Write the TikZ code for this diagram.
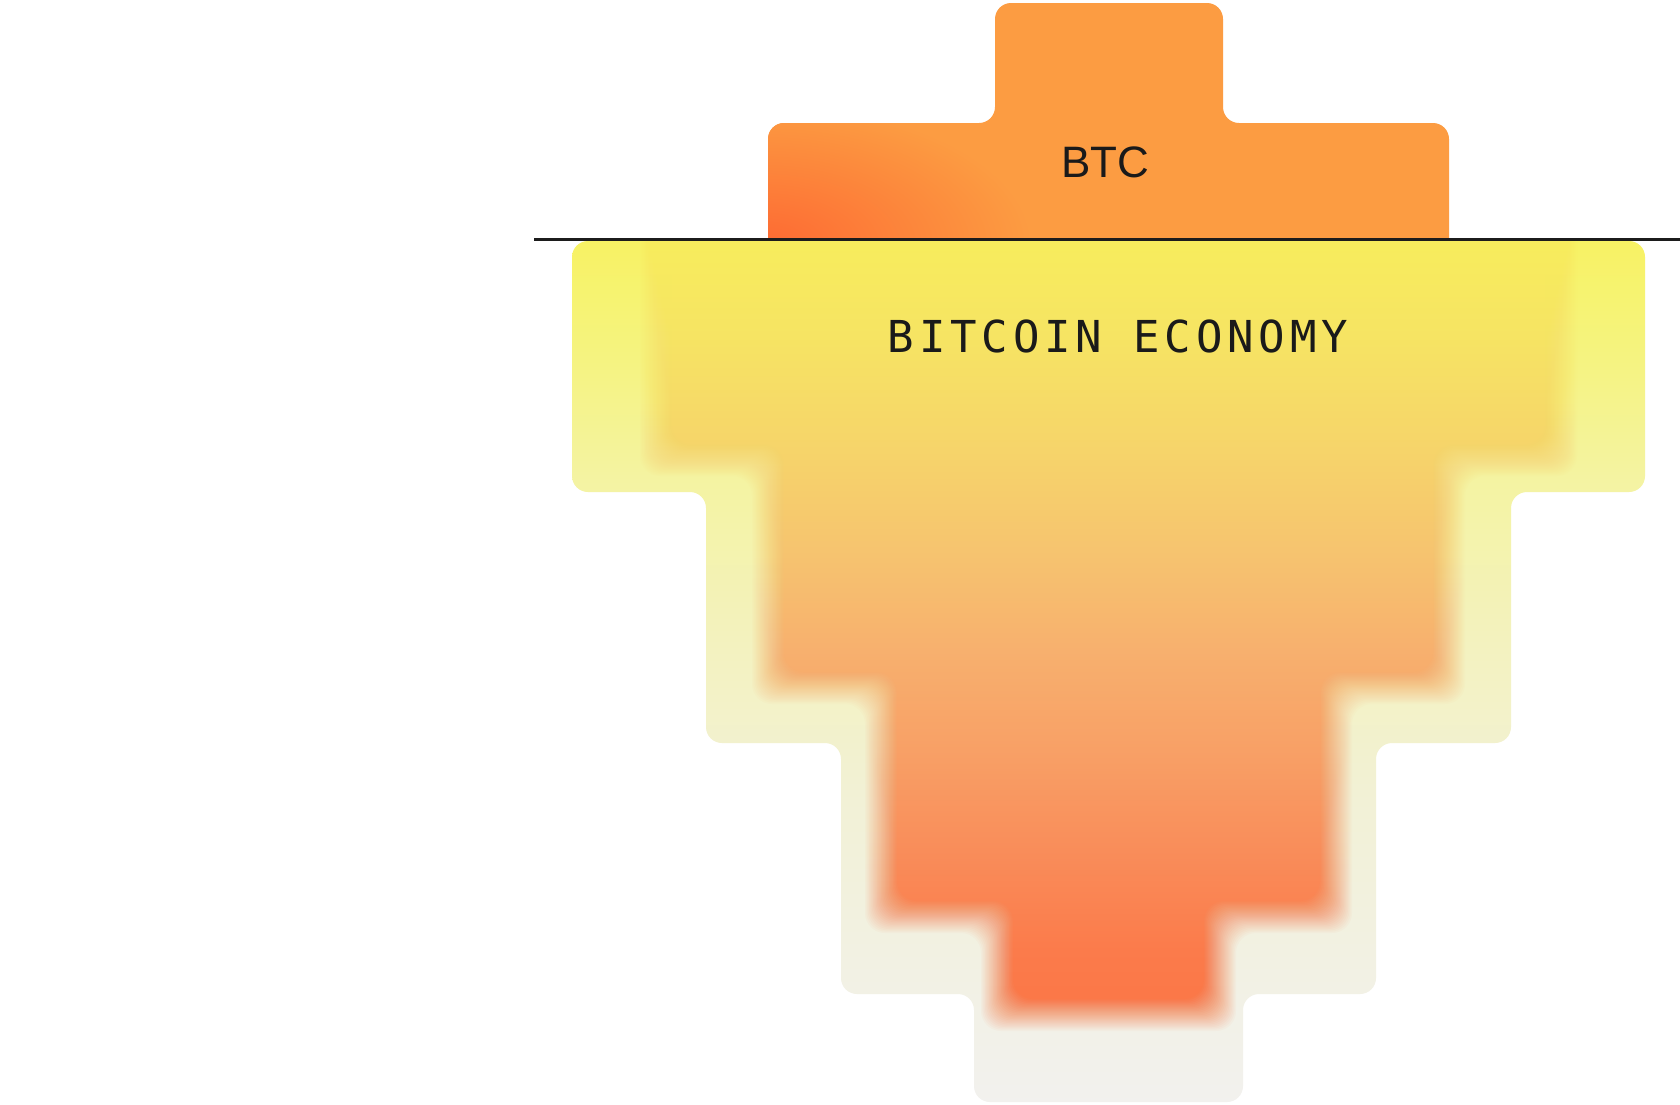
\documentclass[tikz,border=0pt]{standalone}
\usepackage{fontspec}
\newfontfamily\btcfont{Liberation Sans}
\newfontfamily\econfont[LetterSpace=11]{DejaVu Sans Mono}
\definecolor{btcorange}{HTML}{FC9C42}
\definecolor{btcred}{HTML}{FD6A33}
\definecolor{ink}{HTML}{1A1A1A}
\definecolor{linecol}{HTML}{1C1C1C}
\definecolor{oA}{HTML}{F8F25A}
\definecolor{oB}{HTML}{F5F37E}
\definecolor{oC}{HTML}{F4F3A2}
\definecolor{oD}{HTML}{F3F2C0}
\definecolor{oE}{HTML}{F2F1D6}
\definecolor{oF}{HTML}{F2F1E6}
\definecolor{oG}{HTML}{F2F1EE}
\definecolor{iA}{HTML}{F8F05A}
\definecolor{iB}{HTML}{F6E463}
\definecolor{iC}{HTML}{F6D46A}
\definecolor{iD}{HTML}{F6C46F}
\definecolor{iE}{HTML}{F7B06E}
\definecolor{iF}{HTML}{F8A066}
\definecolor{iG}{HTML}{F98D5A}
\definecolor{iH}{HTML}{FB7B4B}
\definecolor{iI}{HTML}{FC7040}
\pgfdeclareverticalshading{outergrad}{100bp}{color(0bp)=(oG); color(25bp)=(oG); color(30.75bp)=(oF); color(41.81bp)=(oE); color(50.11bp)=(oD); color(59.51bp)=(oC); color(66.70bp)=(oB); color(75bp)=(oA); color(100bp)=(oA)}
\pgfdeclareverticalshading{innergrad}{100bp}{color(0bp)=(iI); color(25bp)=(iI); color(33.52bp)=(iH); color(39.05bp)=(iG); color(44.58bp)=(iF); color(50.11bp)=(iE); color(55.64bp)=(iD); color(61.17bp)=(iC); color(67.48bp)=(iB); color(75bp)=(iA); color(100bp)=(iA)}
\newcommand\myoutershape[1]{\path[#1] (572,241) -- (1645,241) -- (1645,492) -- (1511,492) -- (1511,743) -- (1376,743) -- (1376,994) -- (1243,994) -- (1243,1102) -- (974,1102) -- (974,994) -- (841,994) -- (841,743) -- (706,743) -- (706,492) -- (572,492) -- cycle;}
\newcommand\myinnershape[2]{\path[#1] ({656-#2},200) -- ({1561+#2},200) -- ({1561+#2},{460+#2}) -- ({1449+#2},{460+#2}) -- ({1449+#2},{688+#2}) -- ({1336+#2},{688+#2}) -- ({1336+#2},{917+#2}) -- ({1220+#2},{917+#2}) -- ({1220+#2},{1015+#2}) -- ({997-#2},{1015+#2}) -- ({997-#2},{917+#2}) -- ({881-#2},{917+#2}) -- ({881-#2},{688+#2}) -- ({768-#2},{688+#2}) -- ({768-#2},{460+#2}) -- ({656-#2},{460+#2}) -- cycle;}
\begin{document}
\begin{tikzpicture}[x=1pt,y=-1pt]
\useasboundingbox (0,0) rectangle (1680,1104);
\fill[white] (0,0) rectangle (1680,1104);
% BTC shape
\begin{scope}
\clip (0,0) rectangle (1680,238);
\path[clip,rounded corners=16] (768,300) -- (768,123) -- (995,123) -- (995,3) -- (1223,3) -- (1223,123) -- (1449,123) -- (1449,300) -- cycle;
\fill[btcorange] (700,0) rectangle (1500,240);
\shade[inner color=btcred,outer color=btcorange] (762,244) ellipse [x radius=270,y radius=140];
\end{scope}
% outer stepped shape
\begin{scope}
\myoutershape{clip,rounded corners=16}
\shade[shading=outergrad] (540,200) rectangle (1670,1104);
% blurred inner shape: stacked layers with growing opacity
\foreach \k in {1,...,25}{
\pgfmathsetmacro\d{16-1.3333*(\k-1)}
\pgfmathsetmacro\a{1/(26-\k)}
\begin{scope}
\myinnershape{clip,rounded corners=20}{\d}
\shade[shading=innergrad,opacity=\a] (540,200) rectangle (1670,1104);
\end{scope}
}
\end{scope}
% line
\coordinate (lineL) at (534,239);
\coordinate (lineR) at (1680,239);
\draw[linecol,line width=3pt] (lineL) -- (lineR);
% texts
\node[text=ink,font=\btcfont\fontsize{44}{52}\selectfont] (btc) at (1105,162) {BTC};
\node[text=ink,font=\econfont\fontsize{44}{52}\selectfont] (econ) at (1118,336) {BITCOIN ECONOMY};
\end{tikzpicture}
\end{document}
